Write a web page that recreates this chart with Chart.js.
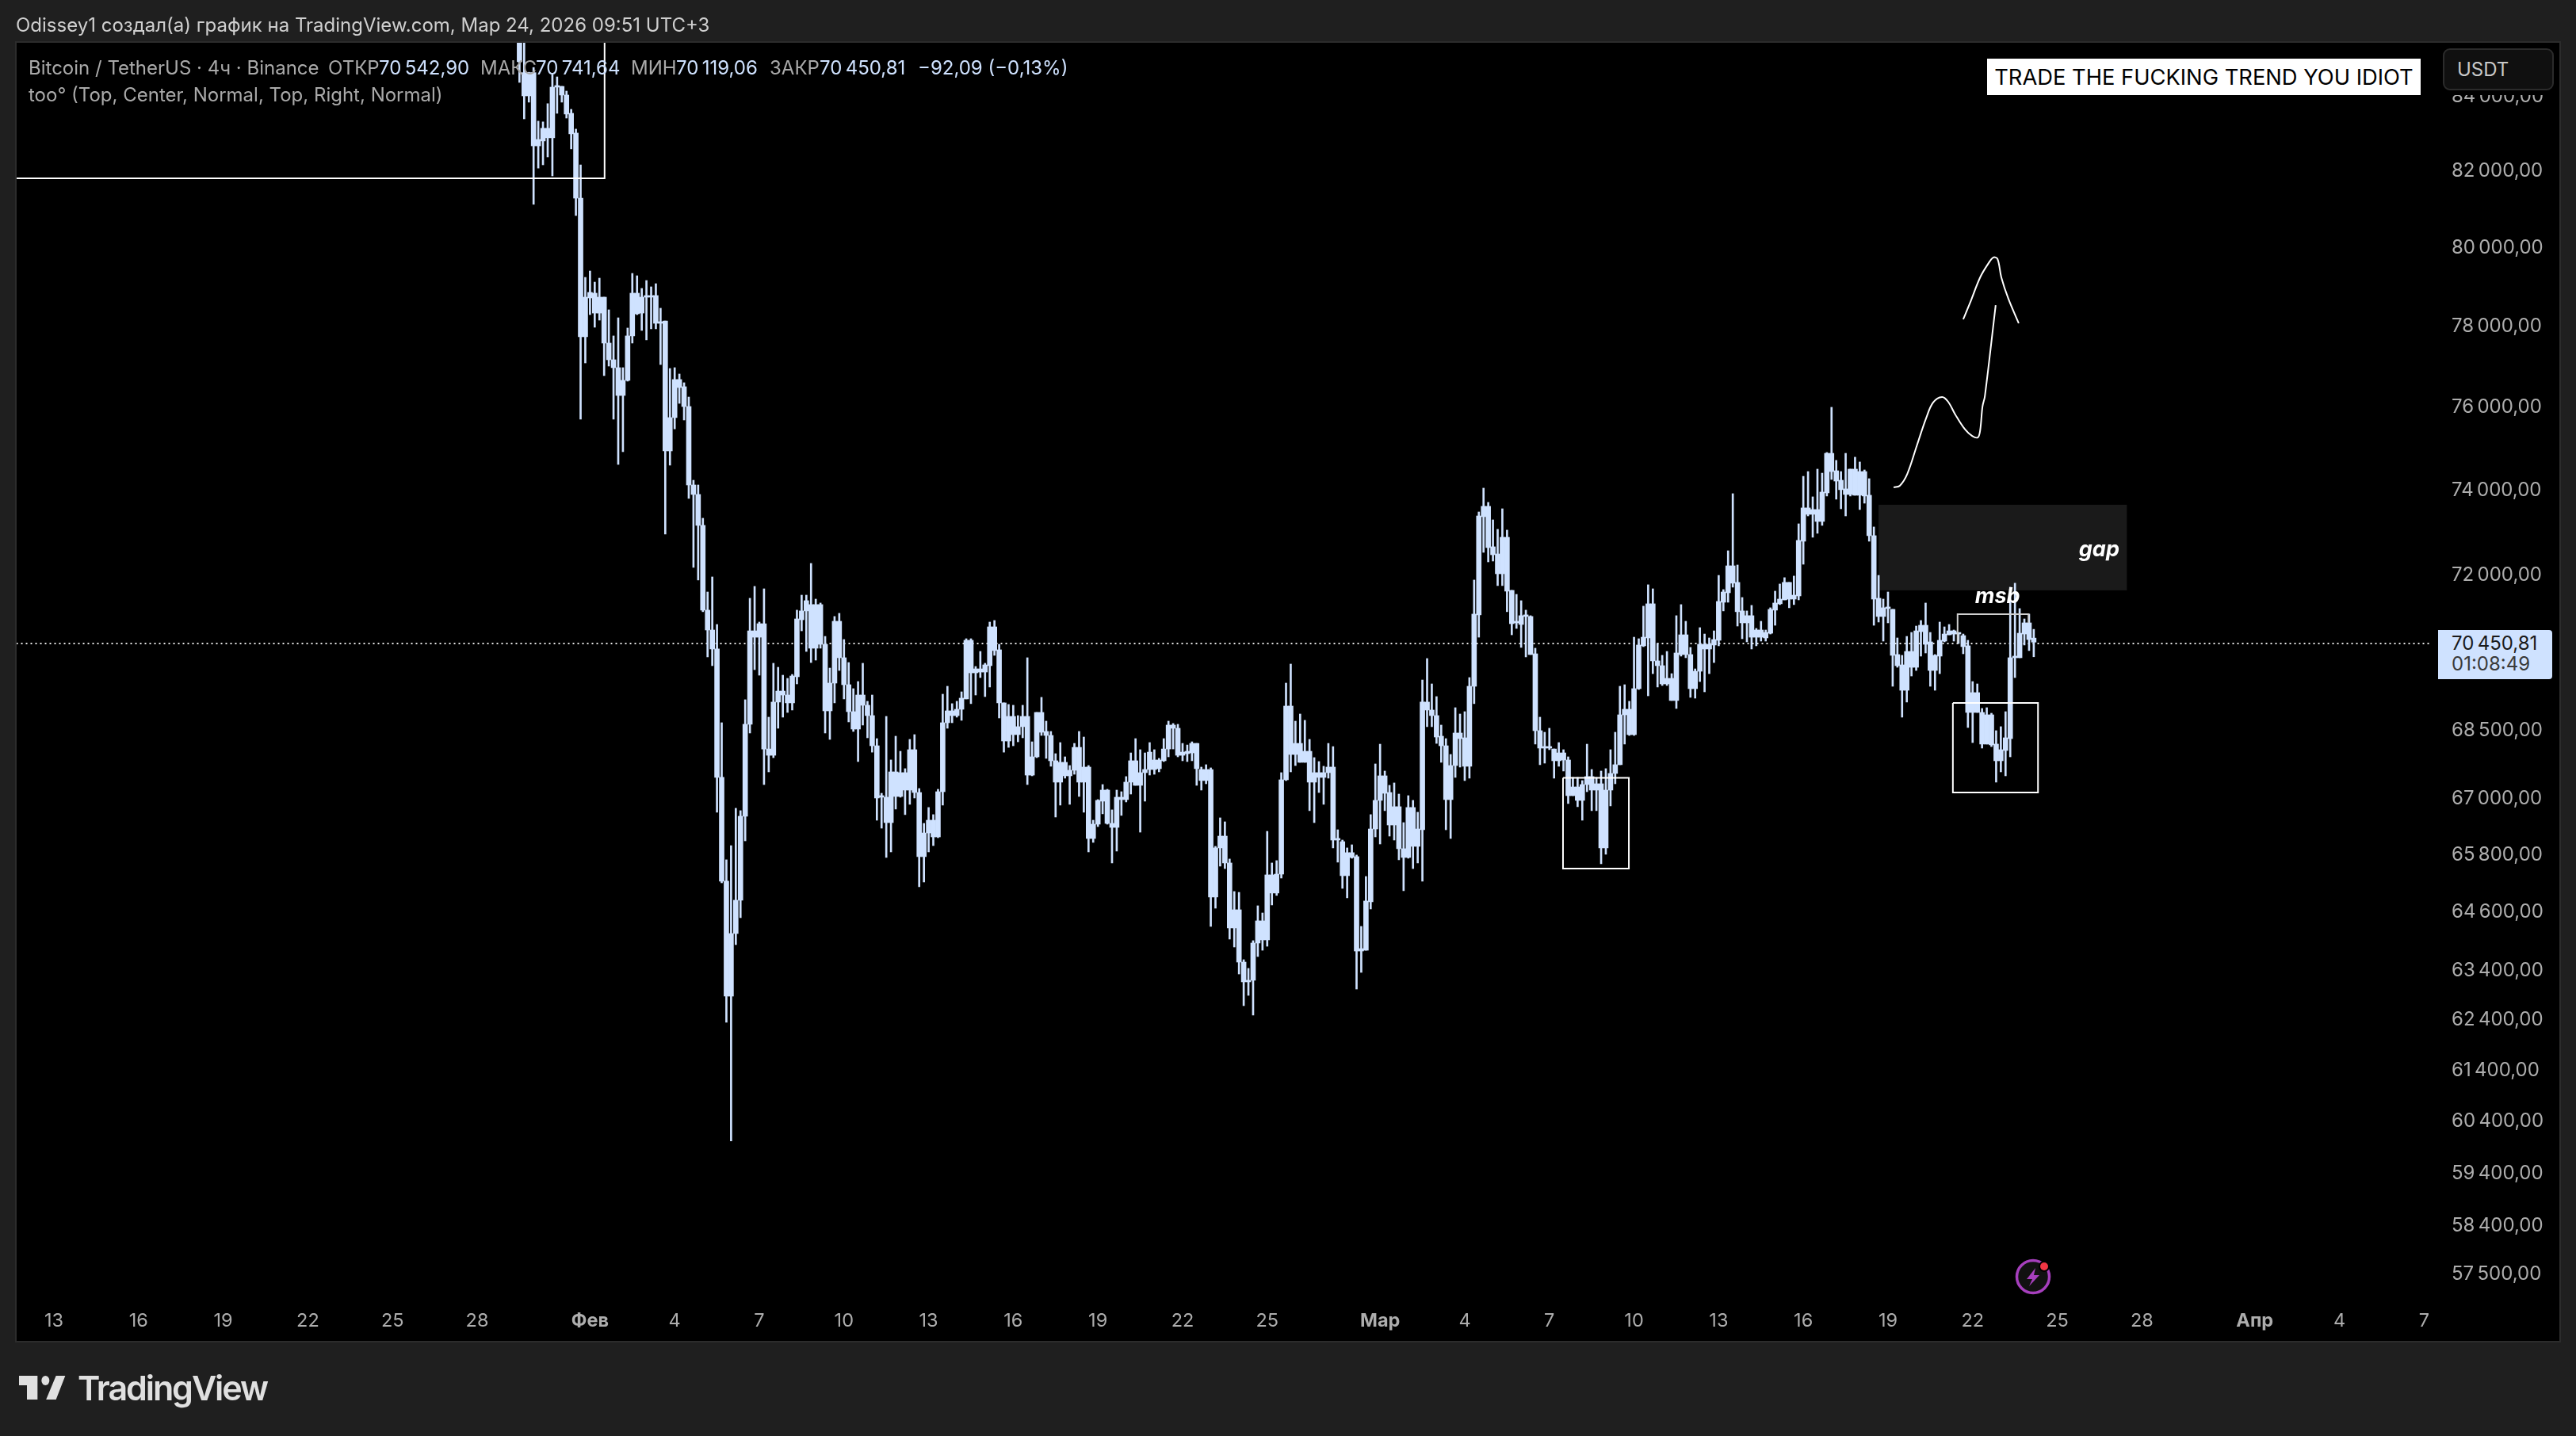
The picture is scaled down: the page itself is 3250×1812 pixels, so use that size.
<!DOCTYPE html>
<html lang="ru">
<head>
<meta charset="UTF-8">
<title>BTCUSDT 4h</title>
<script src="https://cdn.jsdelivr.net/npm/chart.js@4/dist/chart.umd.min.js"></script>
<style>
    html, body { margin: 0; padding: 0; background: #1f1f1f; width: 3250px; height: 1812px; overflow: hidden; font-family: Inter, sans-serif; }
    canvas { position: absolute; left: 0; top: 0; }
    .abs { position: absolute; white-space: pre; line-height: 1; }
    .leg { font-size: 24px; top: 74px; }
    .lbl { color: #a9a9a9; }
    .val { color: #cfe2ff; }
</style>
</head>
<body>
<canvas id="chart" width="3250" height="1812"></canvas>

<div class="abs" style="left:20px;top:20px;font-size:24px;color:#cfcfcf">Odissey1 создал(а) график на TradingView.com, Мар 24, 2026 09:51 UTC+3</div>

<div class="abs leg lbl" style="left:36px">Bitcoin / TetherUS · 4ч · Binance</div>
<div class="abs leg lbl" style="left:414px">ОТКР</div>
<div class="abs leg val" style="left:478px">70&#8201;542,90</div>
<div class="abs leg lbl" style="left:606px">МАКС</div>
<div class="abs leg val" style="left:676px">70&#8201;741,64</div>
<div class="abs leg lbl" style="left:796px">МИН</div>
<div class="abs leg val" style="left:853px">70&#8201;119,06</div>
<div class="abs leg lbl" style="left:971px">ЗАКР</div>
<div class="abs leg val" style="left:1034px">70&#8201;450,81</div>
<div class="abs leg val" style="left:1158px">−92,09 (−0,13%)</div>
<div class="abs leg lbl" style="left:36px;top:108px">too° (Top, Center, Normal, Top, Right, Normal)</div>

<div class="abs" style="left:2507px;top:74px;width:547px;height:46px;background:#fff;color:#000;font-size:27.3px;line-height:47px;text-align:center">TRADE THE FUCKING TREND YOU IDIOT</div>

<div class="abs" style="left:3076px;top:54px;width:152px;height:66px;background:#000"></div>
<div class="abs" style="left:3082px;top:61px;width:140px;height:53px;box-sizing:border-box;background:#101010;border:2px solid #2b2b2b;border-radius:9px;color:#c8c8c8;font-size:24px;line-height:49px;padding-left:16px">USDT</div>

<div class="abs" style="left:3076px;top:795px;width:144px;height:62px;background:#cfe2ff;border-radius:0 4px 4px 0"></div>
<div class="abs" style="left:3093px;top:800px;font-size:24px;color:#1a1a1a">70&#8201;450,81</div>
<div class="abs" style="left:3093px;top:826px;font-size:24px;color:#3a3a3a">01:08:49</div>

<svg class="abs" style="left:2540px;top:1586px" width="50" height="50" viewBox="0 0 50 50">
    <circle cx="25" cy="25" r="20.5" fill="#111" stroke="#a63fbd" stroke-width="3.5"/>
    <path d="M28 14 L17 28 L24 28 L20 37 L33 23 L26 23 Z" fill="#a63fbd"/>
    <circle cx="39" cy="12" r="7" fill="#000"/>
    <circle cx="39" cy="12" r="5" fill="#f23645"/>
</svg>

<svg class="abs" style="left:24px;top:1736px" width="60" height="30" viewBox="0 6 36 15" preserveAspectRatio="none">
    <path d="M14 6H0v6h6v9h8V6Zm14 15h-7.5L28 6h7l-7 15Z" fill="#e0e0e0"/>
    <circle cx="20" cy="9" r="3" fill="#e0e0e0"/>
</svg>
<div class="abs" style="left:98px;top:1730px;font-size:43px;font-weight:600;letter-spacing:-2.1px;color:#e0e0e0">TradingView</div>

<script>
    // candle number of the first visible bar, 6 candles per day, 0 = Jan 13
    const firstCandle = 99;

    const bodyTop = [
        85740,84620,84620,84620,82820,83118,83118,84226,84269,84247,
        84012,83520,82991,81271,78722,78843,78823,78722,78722,77567,
        77152,76956,76642,77746,78823,78823,78722,78742,78742,78763,
        78102,78122,75730,76663,76663,76486,76000,74105,73880,73148,
        71180,70726,70295,67450,65234,64145,64836,66612,68613,70707,
        70707,70870,70870,68070,69105,69350,69350,69262,69687,70979,
        71162,71397,71307,71307,71307,70402,69528,70925,70925,70098,
        69492,68892,69262,69262,69034,68805,68140,67038,67021,67570,
        67570,67553,67553,68054,68054,67123,66255,66527,66527,67140,
        68647,68910,68910,68945,69192,70492,70492,69847,69847,69937,
        70798,70798,70277,69087,68787,68787,68560,68787,68787,67898,
        68875,68875,68455,68367,67812,67778,67778,67605,68105,68105,
        67674,67674,66442,66953,67175,67175,66459,67021,67021,67347,
        67812,67812,67553,67622,68001,67829,67829,68070,68595,68595,
        68525,68001,68019,68192,68192,67622,67622,67622,65937,66188,
        66188,65618,64637,64637,63558,63187,63949,64407,64407,65367,
        65367,65383,67398,69016,69016,68192,68192,68019,68019,67553,
        67553,67553,67674,67674,66121,66070,65836,65836,65752,63834,
        64820,66340,66953,67484,67484,67123,66817,66817,65920,66800,
        66800,66340,69105,69105,68928,68805,68350,68140,67708,68420,
        68420,68315,69457,71089,73371,73598,73598,72646,72479,72868,
        72868,71634,70907,71053,71053,71035,70187,68472,68122,68105,
        68070,67984,67984,67829,67243,67243,67295,67468,67468,67312,
        67312,67175,67536,67726,68822,68945,68945,69404,70385,70563,
        71325,71325,70027,69919,69634,69634,70205,70617,70617,70170,
        69794,70402,70402,70402,70510,71379,71597,72202,72202,71818,
        71162,71053,71053,70726,70726,70671,71198,71343,71433,71818,
        71818,71524,72795,73560,73560,73522,73522,73936,74864,74864,
        74445,74218,74012,74484,74484,74426,74426,73861,72906,71452,
        71234,71234,71198,70170,69937,70240,70240,70707,70834,70834,
        70456,70152,70492,70635,70707,70707,70653,70599,70367,69315,
        69315,68875,68822,68822,68177,68054,68315,70098,70134,70653,
        70889,70889,70542.9
    ];
    const bodyBottom = [
        84916,83990,83990,82650,82650,82780,82865,82865,84226,84012,
        83500,82970,81271,77726,77726,78702,78320,78320,77567,77152,
        76956,76271,76271,76642,77746,78301,78320,78722,78722,78063,
        78063,74922,74922,75730,76466,76000,74105,73880,73148,71180,
        70726,70295,67450,65234,62865,62865,64145,64836,66612,68613,
        70563,70563,68070,67932,67932,69105,69262,69087,69087,69670,
        70960,71162,70313,70313,70402,68910,68910,69528,70098,69492,
        68892,68507,68507,69034,68805,68140,67004,67021,66476,66476,
        67038,67038,67175,67175,67123,65752,65752,66255,66171,66171,
        67140,68647,68805,68805,68945,69175,69758,69758,69776,69776,
        69919,70260,69087,68245,68245,68385,68385,68560,67500,67500,
        67898,68437,68367,67812,67347,67347,67484,67484,67605,67347,
        67347,66137,66137,66442,66936,66459,66374,66374,66970,66970,
        67347,67278,67278,67553,67622,67622,67640,67812,68070,68525,
        67932,67932,67967,67984,67640,67382,67382,64903,64903,65937,
        65618,64260,64260,63558,63155,63155,63187,63949,64014,64014,
        64986,64986,65383,67398,67950,67950,67778,67778,67347,67347,
        67450,67450,67553,66104,66104,65350,65350,65735,63785,63785,
        63801,64803,66340,66953,67106,66425,66425,65920,65735,65735,
        65970,65970,66323,68928,68805,68332,68140,66970,66970,67708,
        68297,67692,67692,69457,71071,73353,72627,72460,72018,72018,
        71616,70870,70889,70853,71035,70170,68472,68089,68089,68089,
        67812,67812,67829,67055,67055,66953,66953,67295,67175,67175,
        65937,65937,67175,67536,67726,68822,68385,68385,69404,70367,
        70546,70027,69919,69510,69510,69140,69140,70170,70170,69404,
        69404,69794,70295,70295,70385,70492,71361,71579,71800,71144,
        70889,70889,70563,70563,70563,70546,70653,71180,71325,71415,
        71433,71433,71506,72776,73409,73409,73241,73241,73917,74426,
        74199,73993,73880,73880,73861,73861,73842,72906,71433,71035,
        71035,71216,70152,69919,69368,69368,69883,69883,70689,70402,
        69812,69812,70134,70474,70617,70635,70635,70349,68875,68875,
        68875,68177,68177,68159,67812,67812,68037,68297,70098,70098,
        70635,70510,70450.81
    ];
    const wickHigh = [
        85960,85740,84630,84760,83310,83290,83780,84570,84505,84247,
        84119,83627,83097,82147,79225,79387,79104,79205,78722,78402,
        77746,78201,76956,77944,79326,79266,78944,79145,78984,79064,
        78442,78122,76936,76956,76799,76584,76232,74218,74105,73316,
        71597,71945,70852,68647,65685,65986,66783,66732,69157,71452,
        71726,70907,71670,68770,69973,69883,69705,69634,69722,71180,
        71524,71524,72258,71433,71343,70581,69865,71035,71107,70510,
        69990,69404,69563,69973,69122,69262,68297,67106,68787,67830,
        68350,68019,67640,68280,68385,67209,66459,66800,66647,67192,
        69280,69457,69070,69122,69333,70528,70528,69901,70240,69973,
        70907,70943,70402,69087,69052,69034,68805,69034,70098,68227,
        68875,69210,68682,68455,67967,68210,67898,67708,68192,68455,
        68332,67708,66527,66970,67295,67192,66749,67175,67140,67468,
        67984,68297,68054,67984,68210,68054,67864,68297,68682,68630,
        68612,68192,68157,68227,68192,67674,67726,67657,65970,66578,
        66493,65702,65018,65000,63607,63429,63998,64720,64571,66289,
        65618,65668,67553,69528,69955,68682,68840,68700,68280,67881,
        67795,67692,68192,68122,66323,66104,65937,66003,65786,64292,
        65333,66647,67743,68175,67588,67278,67330,67089,66476,67055,
        66953,66698,69598,70080,69510,69227,68595,68297,67950,68980,
        68840,68892,69652,71873,73465,74030,73691,73278,73055,73540,
        73037,71634,71542,71397,71180,71053,70313,68770,68437,68525,
        68070,68210,68054,67898,67450,67450,67381,68175,67622,67450,
        67588,67640,68054,68437,69457,69492,69122,70563,70528,71271,
        71763,71670,70420,70152,70240,69740,71053,71307,70925,70331,
        69847,70780,70635,70546,70707,71980,71652,72553,73898,72221,
        71470,71162,71289,70762,70925,70726,71234,71616,71781,71928,
        71818,71965,73185,74312,74426,73823,74484,74388,74884,75981,
        74694,74426,74864,74484,74771,74656,74465,74256,73111,71980,
        71433,71597,71198,70546,70152,70581,70671,70816,70943,71343,
        70671,70170,70907,70798,70852,70726,70653,70635,70492,69563,
        69510,68963,68980,68857,68472,68560,68892,71708,71800,71216,
        70979,71089,70741.64
    ];
    const wickLow = [
        84355,83371,83820,81110,82060,82147,82356,81854,83520,83820,
        83392,82569,80818,75691,77073,78281,77964,78142,76760,76995,
        75691,74597,74903,76623,77567,78281,77884,77647,77924,77924,
        77034,72944,74579,75455,76077,75671,73786,72166,71873,71144,
        70116,69919,66698,65200,62339,60004,63916,64473,66087,68420,
        69830,69705,67295,67570,67880,68525,68770,68875,68928,69510,
        70707,70240,69990,70044,70313,68420,68280,69087,69812,69175,
        68665,68455,67795,68595,68315,68000,66527,66357,65735,65852,
        66766,67021,66647,66868,67004,65118,65217,65852,65986,66154,
        66851,68525,68647,68770,68700,69175,69070,69262,69652,69227,
        69440,70152,68752,68000,68105,68140,68227,68315,67295,67484,
        67880,68367,67864,67692,66595,66851,67433,66868,67518,67038,
        66698,65852,66054,66391,66664,66442,65618,65869,66630,66919,
        67089,67278,66272,66936,67501,67518,67570,67795,67898,68070,
        67898,67812,67795,67812,67278,67175,67312,64292,64670,65551,
        65500,64030,63867,63315,62673,62881,62483,63672,63801,63883,
        64737,64936,65300,67381,67570,67708,67778,67778,66732,66476,
        67123,66868,67433,65937,65635,65084,64886,65718,63009,63348,
        63801,64654,66171,66020,66732,66188,66104,65685,65035,65718,
        65500,65618,65234,68560,68560,68192,67778,66323,66137,67450,
        67674,67381,67433,69070,70563,72516,72294,72313,71744,71744,
        71144,70617,70762,70331,70116,70170,68177,67726,67760,68054,
        67433,67692,67588,66885,67055,66817,66527,67140,66732,66732,
        65601,65802,66834,67312,67726,68177,68367,68367,69386,70349,
        69244,69740,69440,69475,69475,69140,68963,70134,70098,69210,
        69192,69563,69333,69740,69990,70367,71162,71361,71708,70816,
        70528,70456,70295,70367,70474,70474,70635,70834,71307,71415,
        71234,71307,71415,72239,73371,72869,72962,73148,73842,74237,
        73767,73540,73371,73842,73861,73522,73672,72776,70834,70907,
        70474,70889,69457,69883,68770,69105,69687,69812,70134,70205,
        69457,69368,69740,70456,70617,70474,70420,70187,68542,68210,
        68875,68089,68177,68122,67347,67570,67484,67898,69652,70098,
        70385,70260,70119.06
    ];

    const priceTicks = [84000, 82000, 80000, 78000, 76000, 74000, 72000, 68500, 67000, 65800, 64600, 63400, 62400, 61400, 60400, 59400, 58400, 57500];
    const timeTicks = [0, 18, 36, 54, 72, 90, 114, 132, 150, 168, 186, 204, 222, 240, 258, 282, 300, 318, 336, 354, 372, 390, 408, 426, 444, 468, 486, 504];
    const timeLabels = ['13', '16', '19', '22', '25', '28', 'Фев', '4', '7', '10', '13', '16', '19', '22', '25', 'Мар', '4', '7', '10', '13', '16', '19', '22', '25', '28', 'Апр', '4', '7'];
    const monthLabels = ['Фев', 'Мар', 'Апр'];

    // height of the dotted last price line
    const lastPrice = 70420;

    // drawings on the chart, in candle number / price
    const topBoxX = [-10, 117.1, 117.1];
    const topBoxY = [81792, 81792, 86500];
    const marchBoxX = [320.9, 334.9, 334.9, 320.9, 320.9];
    const marchBoxY = [67440, 67440, 65500, 65500, 67440];
    const lastBoxX = [403.8, 421.9, 421.9, 403.8, 403.8];
    const lastBoxY = [69087, 69087, 67123, 67123, 69087];
    const msbX = [404.8, 404.8, 419.9, 419.9];
    const msbY = [70438, 71089, 71089, 70889];
    const pathX = [391.2, 392.5, 394.1, 396.1, 398.1, 399.6, 401.5, 402.8, 404.3, 406.4, 407.9, 409.1, 409.6, 410.1, 410.6, 412.9];
    const pathY = [74049, 74087, 74369, 75037, 75711, 76097, 76232, 76116, 75807, 75440, 75285, 75247, 75420, 76000, 76251, 78520];
    const arrowX = [406, 407.4, 409.6, 411.3, 412.4, 413.3, 414.1, 415.6, 417.8];
    const arrowY = [78162, 78562, 79225, 79572, 79735, 79695, 79225, 78682, 78063];
    const gapBox = { x1: 388, x2: 440.8, top: 73635, bottom: 71634 };
    const notes = [
        { text: 'msb', x: 413.3, y: 71488 },
        { text: 'gap', x: 434.9, y: 72575 }
    ];

    function formatPrice(v) {
        const s = String(v);
        return s.slice(0, 2) + '\u2009' + s.slice(2) + ',00';
    }

    function toPoints(xs, ys) {
        return xs.map((x, i) => ({ x: x, y: ys[i] }));
    }

    function drawing(xs, ys, extra) {
        return Object.assign({
            type: 'line',
            data: toPoints(xs, ys),
            borderColor: '#ffffff',
            borderWidth: 2,
            pointRadius: 0,
            tension: 0,
            order: 0
        }, extra);
    }

    const candleColor = '#cfe2ff';
    const wicks = wickHigh.map((h, i) => ({ x: firstCandle + i, y: [wickLow[i], h] }));
    const bodies = bodyTop.map((t, i) => ({ x: firstCandle + i, y: [bodyBottom[i], t] }));

    const framePlugin = {
        id: 'frame',
        beforeDraw(chart) {
            const c = chart.ctx;
            const right = chart.scales.y.right;
            const bottom = chart.scales.x.bottom;
            const a = chart.chartArea;
            c.save();
            c.fillStyle = '#000';
            c.fillRect(a.left, a.top, right - a.left, bottom - a.top);
            c.strokeStyle = '#2c2c2c';
            c.lineWidth = 2;
            c.strokeRect(a.left - 1, a.top - 1, right - a.left + 2, bottom - a.top + 2);
            c.restore();
        },
        beforeDatasetsDraw(chart) {
            const c = chart.ctx;
            const xs = chart.scales.x, ys = chart.scales.y;
            const x1 = xs.getPixelForValue(gapBox.x1), x2 = xs.getPixelForValue(gapBox.x2);
            const y1 = ys.getPixelForValue(gapBox.top), y2 = ys.getPixelForValue(gapBox.bottom);
            c.save();
            c.fillStyle = '#1a1a1a';
            c.fillRect(x1, y1, x2 - x1, y2 - y1);
            c.restore();
        },
        afterDatasetsDraw(chart) {
            const c = chart.ctx;
            c.save();
            c.fillStyle = '#ffffff';
            c.font = 'italic bold 27px Inter';
            c.textAlign = 'center';
            c.textBaseline = 'middle';
            notes.forEach(n => {
                c.fillText(n.text, chart.scales.x.getPixelForValue(n.x), chart.scales.y.getPixelForValue(n.y));
            });
            c.restore();
        }
    };

    new Chart(document.getElementById('chart').getContext('2d'), {
        type: 'bar',
        plugins: [framePlugin],
        data: {
            datasets: [
                drawing(topBoxX, topBoxY),
                drawing(marchBoxX, marchBoxY),
                drawing(lastBoxX, lastBoxY),
                drawing(msbX, msbY, { borderColor: '#cfcfcf' }),
                drawing(pathX, pathY, { tension: 0.35 }),
                drawing(arrowX, arrowY, { tension: 0.35 }),
                { type: 'bar', data: bodies, backgroundColor: candleColor, barThickness: 6, minBarLength: 2, grouped: false, order: 1 },
                { type: 'bar', data: wicks, backgroundColor: candleColor, barThickness: 2, grouped: false, order: 2 },
                drawing([-8, 505.5], [lastPrice, lastPrice], { borderColor: '#e4e4e4', borderDash: [2, 4], order: 3 })
            ]
        },
        options: {
            responsive: false,
            devicePixelRatio: 1,
            animation: false,
            layout: { padding: { left: 21, top: 54, right: 21, bottom: 120 } },
            plugins: { legend: { display: false }, tooltip: { enabled: false } },
            scales: {
                x: {
                    type: 'linear',
                    offset: false,
                    min: -7.92,
                    max: 506.3,
                    grid: { display: false, drawTicks: false },
                    border: { display: false },
                    afterBuildTicks(scale) { scale.ticks = timeTicks.map(v => ({ value: v })); },
                    afterFit(scale) { scale.height = 52; },
                    ticks: {
                        autoSkip: false,
                        maxRotation: 0,
                        minRotation: 0,
                        padding: 13,
                        color: '#adadad',
                        font: ctx => ({
                            family: 'Inter',
                            size: 23.5,
                            weight: monthLabels.includes(ctx.tick && ctx.tick.label) ? 'bold' : 'normal'
                        }),
                        callback: value => timeLabels[timeTicks.indexOf(value)]
                    }
                },
                y: {
                    type: 'logarithmic',
                    position: 'right',
                    min: 57015,
                    max: 85437,
                    grid: { display: false, drawTicks: false },
                    border: { display: false },
                    afterBuildTicks(scale) { scale.ticks = priceTicks.map(v => ({ value: v })); },
                    afterFit(scale) { scale.width = 157; },
                    ticks: {
                        autoSkip: false,
                        padding: 21,
                        labelOffset: 1,
                        color: '#adadad',
                        font: { family: 'Inter', size: 24 },
                        callback: value => formatPrice(value)
                    }
                }
            }
        }
    });
</script>
</body>
</html>
